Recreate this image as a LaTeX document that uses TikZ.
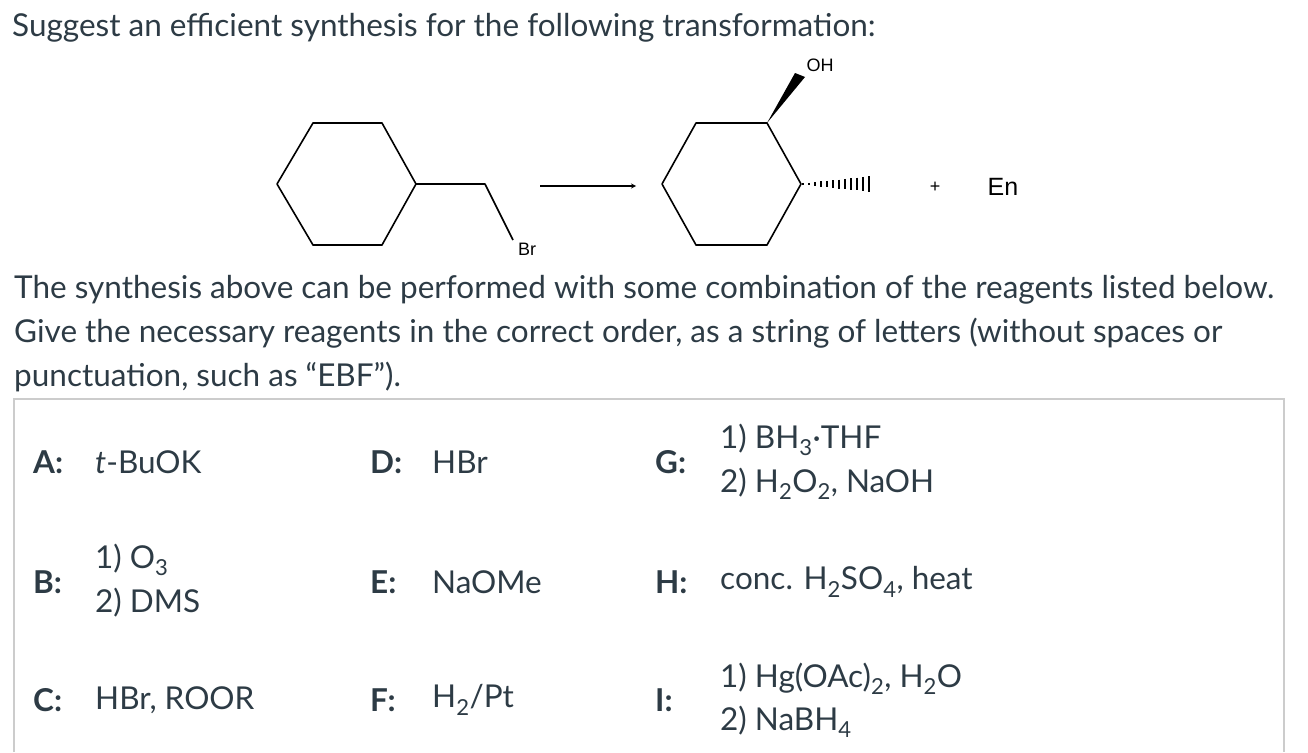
\documentclass[tikz,border=0pt]{standalone}
\usepackage{fontspec}
\setmainfont{Lato}
\newfontfamily\molfont{Liberation Sans}
\definecolor{ink}{HTML}{2D3B45}
\begin{document}
\begin{tikzpicture}[x=1pt,y=-1pt,
  txt/.style={anchor=west,inner sep=0pt,text=ink,font=\fontsize{31.5}{36}\selectfont},
  lab/.style={txt,font=\fontsize{31.5}{36}\selectfont\bfseries},
  mol/.style={inner sep=0pt,font=\molfont\fontsize{18}{22}\selectfont},
  bond/.style={line width=1.6pt,line join=round}]
\useasboundingbox (0,0) rectangle (1308,752);
\node[txt] (t1) at (12,28) {Suggest an efficient synthesis for the following transformation:};
% left ring
\draw[bond] (277,184)--(313,123)--(382,123)--(416,184)--(382,245)--(313,245)--cycle;
\coordinate (c1) at (416,184);
\coordinate (c2) at (485,184);
\coordinate (c3) at (513,240);
\draw[bond] (c1)--(c2)--(c3);
\node[mol] (br) at (527,249) {Br};
\coordinate (a1) at (540,186);
\coordinate (a2) at (636,186);
\draw[line width=1.2pt,-stealth] (a1)--(a2);
% right ring
\draw[bond] (662,184)--(696,123)--(767,123)--(801,184)--(767,245)--(696,245)--cycle;
\node[mol] (oh) at (820,65) {OH};
\fill (767,123)--(795,73)--(805,77)--cycle;
\foreach \i in {0,...,11}{
  \pgfmathsetmacro{\xx}{803+\i*6}
  \pgfmathsetmacro{\hh}{0.6+\i*0.65}
  \draw[line width=1.1pt] (\xx,184-\hh)--(\xx,184+\hh);}
\node[mol] (plus) at (935,187) {+};
\node[mol,font=\molfont\fontsize{25}{30}\selectfont] (en) at (1003,187) {En};
\node[txt] (p1) at (14,290) {The synthesis above can be performed with some combination of the reagents listed below.};
\node[txt] (p2) at (14,333) {Give the necessary reagents in the correct order, as a string of letters (without spaces or};
\node[txt] (p3) at (14,377) {punctuation, such as “EBF”).};
\draw[black!20,line width=1.5pt] (14,752)--(14,399)--(1284,399)--(1284,752);
% A row
\node[lab] (la) at (33,462) {A:};
\node[txt] (ta) at (95,462) {\textit{t}-BuOK};
\node[lab] (ld) at (370,462) {D:};
\node[txt] (td) at (432,462) {HBr};
\node[lab] (lg) at (655,462) {G:};
\node[txt] (tg1) at (720,440) {1) BH\textsubscript{3}·THF};
\node[txt] (tg2) at (720,484) {2) H\textsubscript{2}O\textsubscript{2}, NaOH};
% B row
\node[lab] (lb) at (33,582) {B:};
\node[txt] (tb1) at (95,560) {1) O\textsubscript{3}};
\node[txt] (tb2) at (95,603) {2) DMS};
\node[lab] (le) at (370,582) {E:};
\node[txt] (te) at (432,582) {NaOMe};
\node[lab] (lh) at (655,582) {H:};
\node[txt] (th) at (720,582) {conc. H\textsubscript{2}SO\textsubscript{4}, heat};
% C row
\node[lab] (lc) at (33,700) {C:};
\node[txt] (tc) at (95,700) {HBr, ROOR};
\node[lab] (lf) at (370,700) {F:};
\node[txt] (tf) at (432,700) {H\textsubscript{2}/Pt};
\node[lab] (li) at (655,700) {I:};
\node[txt] (ti1) at (720,679) {1) Hg(OAc)\textsubscript{2}, H\textsubscript{2}O};
\node[txt] (ti2) at (720,722) {2) NaBH\textsubscript{4}};
\end{tikzpicture}
\end{document}
